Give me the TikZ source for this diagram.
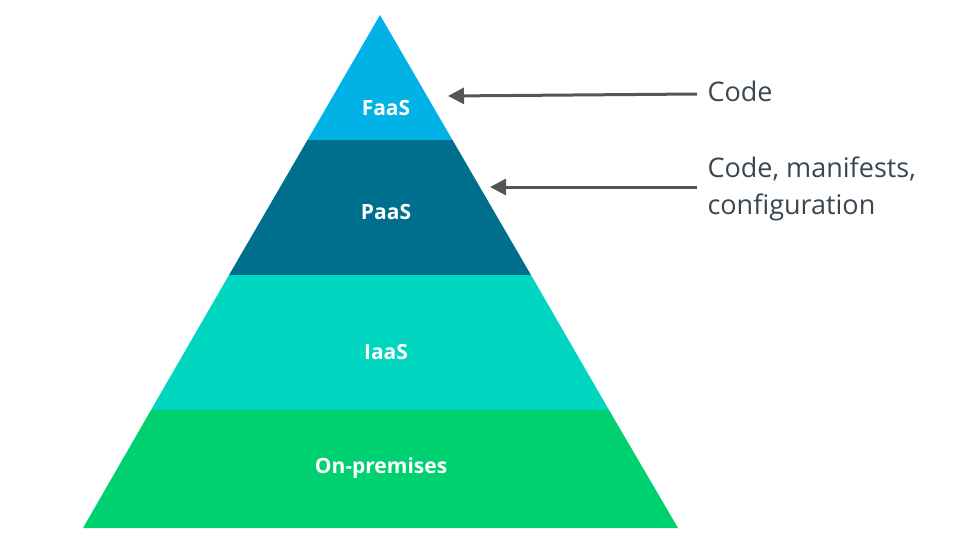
\documentclass[tikz,border=0pt]{standalone}
\usepackage{fontspec}
\setmainfont{Open Sans}
\usetikzlibrary{arrows.meta}
\definecolor{faas}{HTML}{00B2E5}
\definecolor{paas}{HTML}{006F8E}
\definecolor{iaas}{HTML}{00D6BF}
\definecolor{onprem}{HTML}{00D170}
\definecolor{arr}{HTML}{555555}
\definecolor{txt}{HTML}{3A4650}
\tikzset{layer/.style={draw=none},
lbl/.style={text=white,font=\bfseries\fontsize{21}{24}\selectfont},
note/.style={text=txt,anchor=west,align=left,font=\fontsize{27}{37}\selectfont},
pt/.style={draw=arr,line width=3pt,-{Triangle[length=16pt,width=16pt]}}}
\begin{document}
\begin{tikzpicture}[x=1pt,y=-1pt]
\useasboundingbox (0,0) rectangle (974,542);
\fill[faas] (380,15) -- (452.5,140) -- (307.5,140) -- cycle;
\fill[paas] (307.5,140) -- (452.5,140) -- (531,275) -- (229,275) -- cycle;
\fill[iaas] (229,275) -- (531,275) -- (609,410) -- (151,410) -- cycle;
\fill[onprem] (151,410) -- (609,410) -- (678,528) -- (83,528) -- cycle;
\node[lbl] (f) at (386,108) {FaaS};
\node[lbl] (p) at (386,212) {PaaS};
\node[lbl] (i) at (386,352) {IaaS};
\node[lbl] (o) at (381,468) {On-premises};
\node[note] (c1) at (704,91) {Code};
\node[note] (c2) at (704,189) {Code, manifests,\\configuration};
\coordinate (a1) at (697,94);
\coordinate (t1) at (448,96);
\coordinate (a2) at (697,187);
\coordinate (t2) at (490,187);
\draw[pt] (a1) -- (t1);
\draw[pt] (a2) -- (t2);
\end{tikzpicture}
\end{document}
